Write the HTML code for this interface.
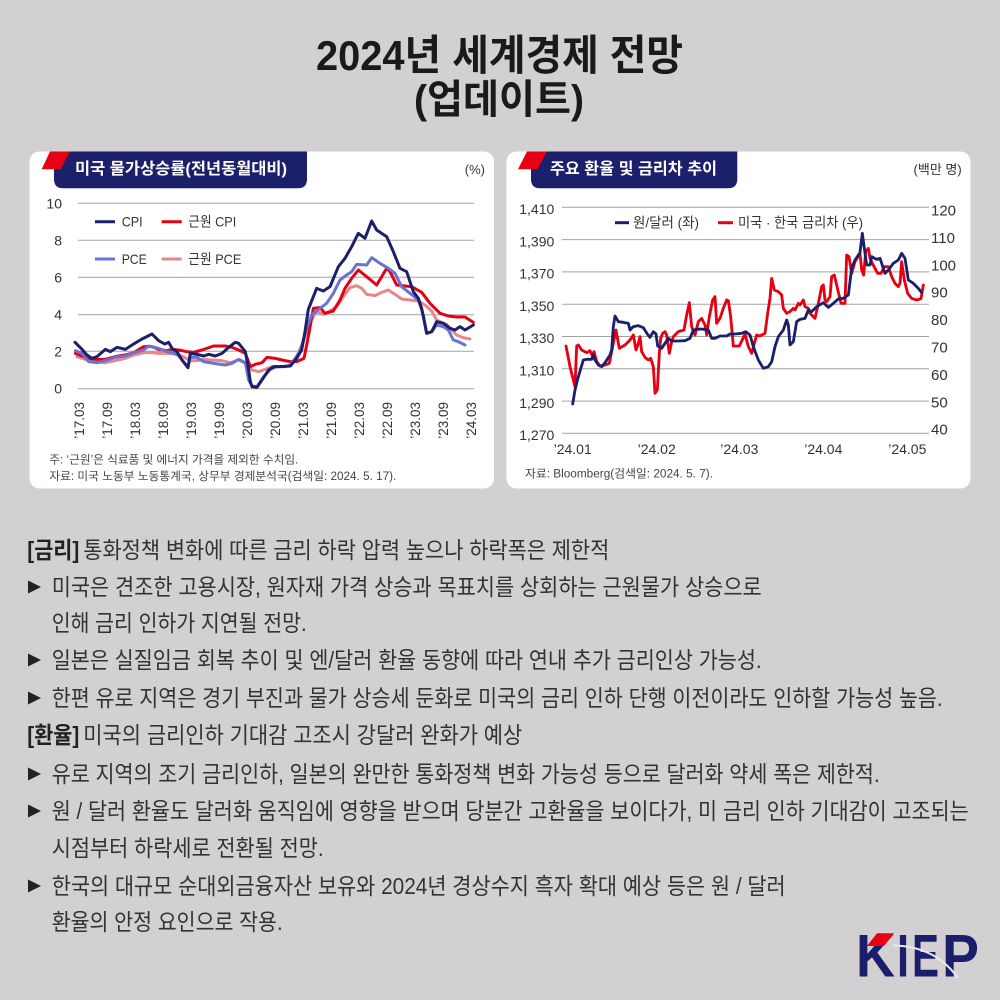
<!DOCTYPE html>
<html><head><meta charset="utf-8"><style>
html,body{margin:0;padding:0;background:#d2d0d1;}
svg{display:block;}
text{font-family:"Liberation Sans","Noto Sans CJK KR",sans-serif;}
</style></head><body>
<svg width="1000" height="1000" viewBox="0 0 1000 1000" xmlns="http://www.w3.org/2000/svg">
<rect width="1000" height="1000" fill="#d2d0d1"/>

<!-- Title -->
<text x="316" y="70" font-size="42" font-weight="700" fill="#1a1a1a" textLength="367" lengthAdjust="spacingAndGlyphs">2024년 세계경제 전망</text>
<text x="414" y="113" font-size="40" font-weight="700" fill="#1a1a1a" textLength="170" lengthAdjust="spacingAndGlyphs">(업데이트)</text>

<!-- Cards -->
<rect x="29.5" y="151.5" width="464.5" height="337" rx="10" fill="#ffffff"/>
<rect x="506.5" y="151.5" width="464" height="337" rx="10" fill="#ffffff"/>

<!-- Left pill -->
<path d="M54,151.5 H307 V179 Q307,188.3 298,188.3 H63 Q54,188.3 54,179 Z" fill="#1c1f6a"/>
<polygon points="50,151.5 70,151.5 60.5,169.3 41.7,169.3" fill="#e60012"/>
<text x="75" y="174" font-size="16" font-weight="700" fill="#ffffff" textLength="212" lengthAdjust="spacingAndGlyphs">미국 물가상승률(전년동월대비)</text>
<text x="485" y="174" font-size="13" fill="#333" text-anchor="end">(%)</text>

<!-- Right pill -->
<path d="M531,151.5 H737.3 V179 Q737.3,188.3 728,188.3 H540 Q531,188.3 531,179 Z" fill="#1c1f6a"/>
<polygon points="527,151.5 546.7,151.5 537.5,169.3 518,169.3" fill="#e60012"/>
<text x="550" y="174" font-size="16" font-weight="700" fill="#ffffff" textLength="167" lengthAdjust="spacingAndGlyphs">주요 환율 및 금리차 추이</text>
<text x="961.7" y="174" font-size="13" fill="#333" text-anchor="end">(백만 명)</text>

<!-- Left chart grid -->
<g stroke="#a3a3a3" stroke-width="1">
<line x1="78" y1="203.3" x2="474" y2="203.3"/>
<line x1="78" y1="240.3" x2="474" y2="240.3"/>
<line x1="78" y1="277.3" x2="474" y2="277.3"/>
<line x1="78" y1="314.7" x2="474" y2="314.7"/>
<line x1="78" y1="351.3" x2="474" y2="351.3"/>
<line x1="78" y1="388.7" x2="474" y2="388.7"/>
</g>
<g font-size="14" fill="#333" text-anchor="end">
<text x="62" y="208.3">10</text>
<text x="62" y="245.3">8</text>
<text x="62" y="282.3">6</text>
<text x="62" y="319.7">4</text>
<text x="62" y="356.3">2</text>
<text x="62" y="393.7">0</text>
</g>
<g font-size="13.5" fill="#333" text-anchor="end">
<text transform="translate(84,402) rotate(-90)">’17.03</text>
<text transform="translate(112,402) rotate(-90)">’17.09</text>
<text transform="translate(140,402) rotate(-90)">’18.03</text>
<text transform="translate(168,402) rotate(-90)">’18.09</text>
<text transform="translate(196,402) rotate(-90)">’19.03</text>
<text transform="translate(224,402) rotate(-90)">’19.09</text>
<text transform="translate(252,402) rotate(-90)">’20.03</text>
<text transform="translate(280,402) rotate(-90)">’20.09</text>
<text transform="translate(308,402) rotate(-90)">’21.03</text>
<text transform="translate(336,402) rotate(-90)">’21.09</text>
<text transform="translate(364,402) rotate(-90)">’22.03</text>
<text transform="translate(392,402) rotate(-90)">’22.09</text>
<text transform="translate(420,402) rotate(-90)">’23.03</text>
<text transform="translate(448,402) rotate(-90)">’23.09</text>
<text transform="translate(476,402) rotate(-90)">’24.03</text>
</g>

<!-- Left legend -->
<g stroke-width="3">
<line x1="95" y1="221.7" x2="115" y2="221.7" stroke="#1c1f6a"/>
<line x1="161.7" y1="221.7" x2="181.7" y2="221.7" stroke="#e60012"/>
<line x1="95" y1="259" x2="115" y2="259" stroke="#6a72d2"/>
<line x1="161.7" y1="259" x2="181.7" y2="259" stroke="#e8868c"/>
</g>
<g font-size="14" fill="#333">
<text x="121.7" y="226.7" textLength="21" lengthAdjust="spacingAndGlyphs">CPI</text>
<text x="188.3" y="226.7" textLength="48" lengthAdjust="spacingAndGlyphs">근원 CPI</text>
<text x="121.7" y="264" textLength="25" lengthAdjust="spacingAndGlyphs">PCE</text>
<text x="188.3" y="264" textLength="53" lengthAdjust="spacingAndGlyphs">근원 PCE</text>
</g>

<!-- Left series -->
<g transform="translate(30,150) scale(0.333333)" fill="none" stroke-width="9" stroke-linejoin="round" stroke-linecap="round">
<polyline stroke="#e8868c" points="141,620 166,628 186,635 226,638 256,632 286,625 311,615 341,608 366,608 386,610 411,610 436,612 456,618 481,632 501,632 521,628 546,630 576,632 601,638 626,630 646,640 666,660 686,665 706,658 726,650 751,650 781,648 800,620 820,575 840,515 860,485 880,493 900,483 920,470 940,440 960,413 980,407 995,415 1010,433 1035,437 1055,427 1075,420 1095,433 1115,447 1140,450 1165,453 1185,465 1205,483 1220,510 1235,517 1250,523 1265,540 1280,555 1300,563 1320,567"/>
<polyline stroke="#e60012" points="136,610 156,618 176,625 201,628 226,628 256,620 286,615 311,608 341,590 366,590 386,598 411,602 426,598 446,600 471,605 491,607 516,600 551,588 586,588 606,592 626,600 646,610 661,650 676,643 696,638 711,622 736,625 756,630 781,635 800,635 822,625 835,560 850,475 870,473 885,490 910,483 930,450 945,415 965,385 985,360 1010,380 1040,405 1070,355 1080,365 1100,405 1125,408 1145,410 1175,427 1200,460 1230,490 1255,498 1280,501 1305,501 1330,517"/>
<polyline stroke="#6a72d2" points="136,602 156,610 176,635 201,638 226,632 256,622 286,618 311,608 341,600 356,588 386,595 411,605 426,607 446,617 474,652 481,622 501,622 521,635 551,640 586,645 606,640 626,628 646,638 656,690 666,708 681,710 701,680 721,658 741,650 766,650 781,645 810,605 830,535 845,495 870,475 890,460 910,430 930,390 950,375 965,365 980,343 1010,345 1025,323 1050,340 1075,355 1095,370 1115,410 1140,430 1165,450 1180,495 1190,550 1205,545 1220,525 1240,530 1255,540 1270,570 1285,575 1305,585"/>
<polyline stroke="#1c1f6a" points="135,577 156,598 171,615 186,625 201,620 226,598 241,605 261,592 286,598 311,582 336,567 366,552 386,572 404,582 416,577 426,595 441,605 456,630 474,653 481,610 501,613 521,618 536,613 556,618 576,610 596,592 616,577 626,580 646,605 656,660 661,695 666,710 681,712 696,690 716,660 731,650 751,650 781,648 800,625 815,600 825,545 835,478 860,415 880,423 900,410 925,350 945,325 965,290 985,250 1005,265 1025,213 1040,240 1070,260 1090,305 1110,355 1130,365 1150,425 1165,445 1175,475 1190,550 1205,545 1220,515 1240,520 1260,535 1275,540 1290,530 1305,540 1330,525"/>
</g>

<!-- Left footnotes -->
<text x="49.3" y="463.5" font-size="11.5" fill="#444" textLength="249" lengthAdjust="spacingAndGlyphs">주: ‘근원’은 식료품 및 에너지 가격을 제외한 수치임.</text>
<text x="49.3" y="480" font-size="11.5" fill="#444" textLength="347" lengthAdjust="spacingAndGlyphs">자료: 미국 노동부 노동통계국, 상무부 경제분석국(검색일: 2024. 5. 17).</text>

<!-- Right chart grid -->
<g stroke="#a3a3a3" stroke-width="1">
<line x1="562" y1="207.3" x2="929" y2="207.3"/>
<line x1="562" y1="239.6" x2="929" y2="239.6"/>
<line x1="562" y1="271.9" x2="929" y2="271.9"/>
<line x1="562" y1="304.2" x2="929" y2="304.2"/>
<line x1="562" y1="336.5" x2="929" y2="336.5"/>
<line x1="562" y1="368.8" x2="929" y2="368.8"/>
<line x1="562" y1="401.1" x2="929" y2="401.1"/>
<line x1="562" y1="433.3" x2="929" y2="433.3"/>
</g>
<g font-size="14" fill="#333" text-anchor="end">
<text x="554.3" y="214">1,410</text>
<text x="554.3" y="246.3">1,390</text>
<text x="554.3" y="278.6">1,370</text>
<text x="554.3" y="310.9">1,350</text>
<text x="554.3" y="343.2">1,330</text>
<text x="554.3" y="375.5">1,310</text>
<text x="554.3" y="407.8">1,290</text>
<text x="554.3" y="440">1,270</text>
</g>
<g font-size="15" fill="#333">
<text x="931" y="215.5">120</text>
<text x="931" y="242.9">110</text>
<text x="931" y="270.3">100</text>
<text x="931" y="297.7">90</text>
<text x="931" y="325.1">80</text>
<text x="931" y="352.5">70</text>
<text x="931" y="379.9">60</text>
<text x="931" y="407.3">50</text>
<text x="931" y="434.7">40</text>
</g>
<g font-size="14" fill="#333" text-anchor="middle">
<text x="572.7" y="454">’24.01</text>
<text x="656.7" y="454">’24.02</text>
<text x="739.3" y="454">’24.03</text>
<text x="823.3" y="454">’24.04</text>
<text x="907.3" y="454">’24.05</text>
</g>

<!-- Right legend -->
<line x1="615" y1="222.7" x2="629" y2="222.7" stroke="#1c1f6a" stroke-width="3"/>
<text x="633" y="227.5" font-size="14" fill="#333" textLength="66" lengthAdjust="spacingAndGlyphs">원/달러 (좌)</text>
<line x1="718" y1="222.7" x2="733" y2="222.7" stroke="#e60012" stroke-width="3"/>
<text x="738" y="227.5" font-size="14" fill="#333" textLength="125" lengthAdjust="spacingAndGlyphs">미국 · 한국 금리차 (우)</text>

<!-- Right series -->
<g transform="translate(505,150) scale(0.333333)" fill="none" stroke-width="8.5" stroke-linejoin="round" stroke-linecap="round">
<polyline stroke="#e60012" points="183,588 195,650 210,710 215,588 220,585 230,600 245,608 255,602 263,620 267,605 275,635 285,648 300,645 313,640 325,580 333,540 343,595 360,585 375,570 385,555 393,600 400,580 405,560 410,605 420,622 430,630 437,625 445,650 450,730 457,720 463,610 467,565 473,550 480,545 485,555 493,610 500,575 505,560 520,545 537,540 545,495 553,458 560,530 570,555 580,515 590,505 600,525 605,555 613,500 623,450 630,440 635,520 645,505 655,475 665,450 670,452 677,500 685,588 703,588 720,552 730,590 740,610 748,580 755,555 765,558 780,550 788,490 795,445 800,385 808,420 820,425 830,435 835,475 845,490 855,485 865,475 870,480 880,460 885,465 895,450 900,470 910,475 915,490 930,505 938,470 942,450 950,410 955,405 960,450 965,455 975,440 980,380 988,375 995,405 1002,435 1008,460 1020,460 1025,315 1032,320 1040,370 1050,335 1065,310 1070,360 1076,375 1082,305 1090,295 1095,325 1102,340 1110,355 1118,370 1128,370 1138,350 1150,350 1160,380 1170,400 1180,410 1185,400 1190,335 1198,390 1208,430 1220,445 1235,450 1248,446 1255,405"/>
<polyline stroke="#1c1f6a" points="203,762 210,720 220,680 235,630 245,628 260,628 265,615 270,630 280,645 290,650 300,638 315,615 320,600 325,530 330,498 340,515 355,517 370,520 375,540 385,530 400,527 415,533 427,552 435,562 445,545 453,552 458,588 470,595 480,580 490,565 500,573 520,573 540,572 555,565 565,540 585,537 600,538 610,540 620,565 630,565 645,558 665,558 675,552 690,552 710,550 722,545 735,555 745,590 760,630 775,655 790,650 800,635 810,590 820,560 835,540 845,510 850,525 855,585 865,575 875,515 885,508 900,505 910,480 920,485 935,470 955,458 970,472 985,460 1000,447 1015,445 1030,435 1040,355 1050,330 1065,308 1072,250 1078,295 1085,345 1095,345 1100,320 1115,328 1125,325 1140,370 1150,360 1165,340 1180,330 1190,310 1200,325 1210,390 1225,400 1240,415 1250,428"/>
</g>

<text x="525" y="477.5" font-size="11.5" fill="#444" textLength="188" lengthAdjust="spacingAndGlyphs">자료: Bloomberg(검색일: 2024. 5. 7).</text>

<!-- Body text -->
<g font-size="23" fill="#333">
<text x="27.3" y="558" font-weight="700" fill="#222" textLength="52" lengthAdjust="spacingAndGlyphs">[금리]</text>
<text x="83.3" y="558" textLength="526" lengthAdjust="spacingAndGlyphs">통화정책 변화에 따른 금리 하락 압력 높으나 하락폭은 제한적</text>

<text x="51.7" y="595" textLength="710" lengthAdjust="spacingAndGlyphs">미국은 견조한 고용시장, 원자재 가격 상승과 목표치를 상회하는 근원물가 상승으로</text>
<text x="51.7" y="631" textLength="255" lengthAdjust="spacingAndGlyphs">인해 금리 인하가 지연될 전망.</text>
<text x="51.7" y="668" textLength="710" lengthAdjust="spacingAndGlyphs">일본은 실질임금 회복 추이 및 엔/달러 환율 동향에 따라 연내 추가 금리인상 가능성.</text>
<text x="51.7" y="706" textLength="891" lengthAdjust="spacingAndGlyphs">한편 유로 지역은 경기 부진과 물가 상승세 둔화로 미국의 금리 인하 단행 이전이라도 인하할 가능성 높음.</text>

<text x="27.3" y="743" font-weight="700" fill="#222" textLength="52" lengthAdjust="spacingAndGlyphs">[환율]</text>
<text x="83.3" y="743" textLength="439" lengthAdjust="spacingAndGlyphs">미국의 금리인하 기대감 고조시 강달러 완화가 예상</text>

<text x="51.7" y="782" textLength="828" lengthAdjust="spacingAndGlyphs">유로 지역의 조기 금리인하, 일본의 완만한 통화정책 변화 가능성 등으로 달러화 약세 폭은 제한적.</text>
<text x="51.7" y="819" textLength="917" lengthAdjust="spacingAndGlyphs">원 / 달러 환율도 달러화 움직임에 영향을 받으며 당분간 고환율을 보이다가, 미 금리 인하 기대감이 고조되는</text>
<text x="51.7" y="856" textLength="272" lengthAdjust="spacingAndGlyphs">시점부터 하락세로 전환될 전망.</text>
<text x="51.7" y="894" textLength="734" lengthAdjust="spacingAndGlyphs">한국의 대규모 순대외금융자산 보유와 2024년 경상수지 흑자 확대 예상 등은 원 / 달러</text>
<text x="51.7" y="930" textLength="231" lengthAdjust="spacingAndGlyphs">환율의 안정 요인으로 작용.</text>
</g>
<g fill="#222">
<polygon points="28,580.5 41,587 28,593.5"/>
<polygon points="28,653.5 41,660 28,666.5"/>
<polygon points="28,691.5 41,698 28,704.5"/>
<polygon points="28,767.5 41,774 28,780.5"/>
<polygon points="28,804.5 41,811 28,817.5"/>
<polygon points="28,879.5 41,886 28,892.5"/>
</g>

<!-- KIEP logo -->
<g font-size="60" font-weight="700" fill="#1b1f6b">
<text x="856" y="976.7" textLength="39" lengthAdjust="spacingAndGlyphs">K</text>
<text x="897" y="976.7" textLength="12" lengthAdjust="spacingAndGlyphs">I</text>
<text x="912" y="976.7" textLength="27" lengthAdjust="spacingAndGlyphs">E</text>
<text x="942" y="976.7" textLength="37" lengthAdjust="spacingAndGlyphs">P</text>
</g>
<polygon points="877,933.3 894,933.3 884,946 867,946" fill="#e60012"/>
<path d="M893,945.5 Q935,946 958,978" fill="none" stroke="#e9e9f0" stroke-width="2"/>
</svg>
</body></html>
